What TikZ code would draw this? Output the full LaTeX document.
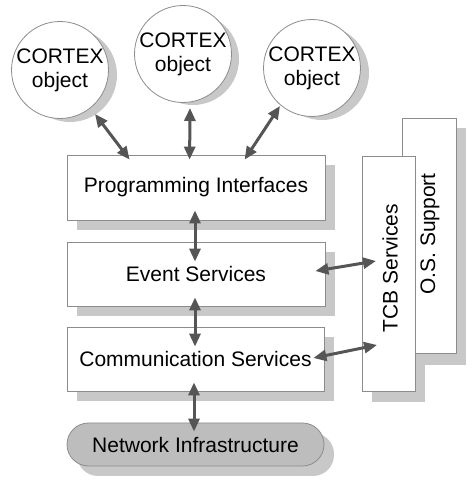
\documentclass[tikz,border=0pt]{standalone}
\usepackage{fontspec}
\setmainfont{Liberation Sans}
\usetikzlibrary{arrows.meta,calc}
\definecolor{shd}{HTML}{C8C8C8}
\definecolor{brd}{HTML}{8C8C8C}
\definecolor{arr}{HTML}{555555}
\definecolor{netfill}{HTML}{BDBDBD}
\begin{document}
\begin{tikzpicture}[x=1pt,y=1pt,
  txt/.style={font=\fontsize{21}{24}\selectfont},
  obj/.style={circle,draw=brd,fill=white,line width=0.8pt,inner sep=0pt,align=center,txt},
  layer/.style={rectangle,draw=brd,fill=white,line width=0.8pt,inner sep=0pt,txt},
  shadowbox/.style={fill=shd,draw=none},
  link/.style={draw=arr,line width=3pt,{Triangle[length=13pt,width=11pt]}-{Triangle[length=13pt,width=11pt]}}
]
\useasboundingbox (0,0) rectangle (474,488);
% shadows
\fill[shd] (70,413) circle (47);
\fill[shd] (193,429) circle (46);
\fill[shd] (322,415) circle (47);
\fill[shd] (77,258) rectangle (335,323);
\fill[shd] (77,172) rectangle (335,236);
\fill[shd] (77,87) rectangle (334,151);
\fill[shd,rounded corners=21pt] (77,12) rectangle (334,55);
\fill[shd] (412,123) rectangle (466,360);
\fill[shd] (372,86) rectangle (425,322);
% objects
\node[obj,minimum size=94pt] (c1) at (60,418) {CORTEX\\object};
\node[obj,minimum size=92pt] (c2) at (183,434) {CORTEX\\object};
\node[obj,minimum size=94pt] (c3) at (312,420) {CORTEX\\object};
% layers
\node[layer,minimum width=258pt,minimum height=65pt] (pi) at (196,300.5) {Programming Interfaces};
\node[layer,minimum width=258pt,minimum height=64pt] (es) at (196,214) {Event Services};
\node[layer,minimum width=257pt,minimum height=64pt] (cs) at (195.5,129) {Communication Services};
\node[layer,fill=netfill,rounded corners=21.5pt,minimum width=257pt,minimum height=43pt] (ni) at (195.5,43.5) {Network Infrastructure};
\node[layer,minimum width=54pt,minimum height=235pt] (os) at (429,252.5) {};
\node[txt,rotate=90] (ostxt) at (430,254) {O.S. Support};
\node[layer,minimum width=53pt,minimum height=235pt] (tcb) at (388.5,214.5) {};
\node[txt,rotate=90] (tcbtxt) at (390,220) {TCB Services};
% connector ends
\coordinate (a1s) at ($(c1.center)+(35,-44)$);
\coordinate (a1e) at ($(pi.north west)+(63,-5)$);
\coordinate (a2s) at ($(c2.center)+(7,-54)$);
\coordinate (a2e) at ($(pi.north west)+(123,-5)$);
\coordinate (a3s) at ($(c3.center)+(-32,-38)$);
\coordinate (a3e) at ($(pi.north west)+(178,-5)$);
\coordinate (a4s) at ($(pi.south)+(-1,10)$);
\coordinate (a4e) at ($(es.north)+(-1,-20)$);
\coordinate (a5s) at ($(es.south)+(-1,9)$);
\coordinate (a5e) at ($(cs.north)+(-0.5,-20)$);
\coordinate (a6s) at ($(cs.south)+(-1.5,9)$);
\coordinate (a6e) at ($(ni.north)+(-1.5,-9)$);
\coordinate (a7s) at ($(es.east)+(-10,3)$);
\coordinate (a7e) at ($(tcb.center)+(-12.5,12.5)$);
\coordinate (a8s) at ($(cs.east)+(-11,1)$);
\coordinate (a8e) at ($(tcb.center)+(-11.5,-71.5)$);
% connectors
\draw[link] (a1s) -- (a1e);
\draw[link] (a2s) -- (a2e);
\draw[link] (a3s) -- (a3e);
\draw[link] (a4s) -- (a4e);
\draw[link] (a5s) -- (a5e);
\draw[link] (a6s) -- (a6e);
\draw[link] (a7s) -- (a7e);
\draw[link] (a8s) -- (a8e);
\end{tikzpicture}
\end{document}
